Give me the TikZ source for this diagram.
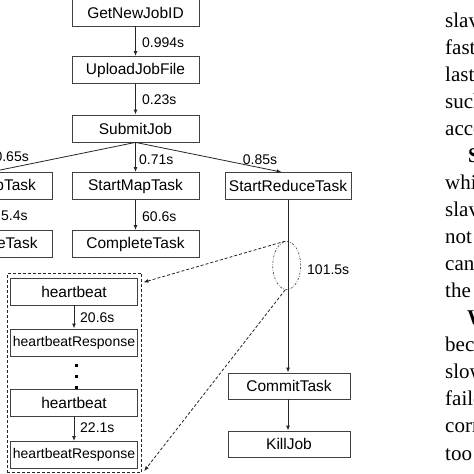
\documentclass[tikz,border=0pt]{standalone}
\usepackage{fontspec}
\setmainfont{Liberation Sans}
\newfontfamily\paperfont{Liberation Serif}
\usetikzlibrary{arrows.meta,shapes.geometric}
\tikzset{
  box/.style={draw=black!75, line width=0.8pt, rectangle, inner sep=0pt,
    minimum width=127pt, minimum height=27pt,
    font=\fontsize{15.5}{18}\selectfont},
  hbbox/.style={box, minimum width=126.6pt},
  lbl/.style={inner sep=0pt, font=\fontsize{14}{16}\selectfont},
  conn/.style={draw=black!85, line width=0.8pt, -{Latex[length=5pt,width=3.8pt]}},
  plain/.style={draw=black!85, line width=0.8pt},
  dconn/.style={draw=black!85, line width=0.8pt, dash pattern=on 3pt off 2pt,
    -{Latex[length=5pt,width=3.8pt]}},
  grpbox/.style={draw=black!85, line width=0.8pt, dash pattern=on 3pt off 2pt,
    rectangle, inner sep=0pt, minimum width=134.4pt, minimum height=199.4pt},
  ell/.style={draw=black!70, line width=0.7pt, ellipse, inner sep=0pt,
    dash pattern=on 2pt off 1.5pt on 0.6pt off 1.5pt,
    minimum width=28pt, minimum height=48pt},
  dot/.style={fill=black, rectangle, inner sep=0pt, minimum size=3pt},
  ptext/.style={anchor=base west, inner sep=0pt,
    font=\paperfont\fontsize{21}{24}\selectfont},
  ptextb/.style={ptext, font=\paperfont\bfseries\fontsize{21}{24}\selectfont}
}
\begin{document}
\begin{tikzpicture}[x=1pt,y=-1pt]
\useasboundingbox (0,0) rectangle (474,474);
\fill[white] (0,0) rectangle (474,474);
\begin{scope}
\clip (0,0) rectangle (474,474);
% main column
\node[box] (gnj) at (135.5,12.5) {GetNewJobID};
\node[box] (ujf) at (135.5,70) {UploadJobFile};
\node[box] (sj) at (135.5,128.5) {SubmitJob};
\node[box] (smt) at (135.5,186) {StartMapTask};
\node[box] (ct) at (135.5,244) {CompleteTask};
% left column (cut off)
\node[box] (smtL) at (-11.5,186) {StartMapTask};
\node[box] (ctL) at (-11.5,244) {CompleteTask};
% right column
\node[box, minimum width=126pt] (srt) at (288,186) {StartReduceTask};
\node[box, minimum width=122pt, minimum height=26pt] (cmt) at (289,386) {CommitTask};
\node[box, minimum width=122pt, minimum height=26pt] (kj) at (289,444) {KillJob};
% heartbeat group
\node[grpbox] (grp) at (74.5,373) {};
\node[hbbox] (hb1) at (74,291.5) {heartbeat};
\node[hbbox, font=\fontsize{14}{16}\selectfont] (hbr1) at (74,342.5) {heartbeatResponse};
\node[hbbox] (hb2) at (74,403) {heartbeat};
\node[hbbox, font=\fontsize{14}{16}\selectfont] (hbr2) at (74,455) {heartbeatResponse};
\node[dot] (d1) at (76,365) {};
\node[dot] (d2) at (76,376) {};
\node[dot] (d3) at (76,387) {};
% ellipse marker
\node[ell] (el) at (286.7,265.5) {};
% connectors
\draw[conn] (gnj.south) -- (ujf.north);
\draw[conn] (ujf.south) -- (sj.north);
\draw[conn] (sj.south) -- (smt.north);
\draw[conn] (sj.south) -- ([xshift=1.5pt]smtL.north);
\draw[conn] (sj.south) -- ([xshift=-6.3pt]srt.north);
\draw[conn] (smt.south) -- (ct.north);
\draw[conn] (smtL.south) -- (ctL.north);
\draw[conn] (srt.south) -- (srt.south |- cmt.north);
\draw[conn] (cmt.south -| srt.south) -- (srt.south |- kj.north);
\draw[conn] (hb1.south) -- (hbr1.north);
\draw[conn] (hb2.south) -- (hbr2.north);
\draw[dconn] ([xshift=-1.5pt]el.north) -- ([xshift=1.3pt,yshift=-9.4pt]grp.north east);
\draw[dconn] ([xshift=-1.5pt]el.south) -- ([xshift=2pt,yshift=2pt]grp.south east);
% labels
\node[lbl, anchor=west] (l1) at (142,43) {0.994s};
\node[lbl, anchor=west] (l2) at (142,100) {0.23s};
\node[lbl, anchor=west] (l3) at (139,160) {0.71s};
\node[lbl] (l4) at (260,160) {0.85s};
\node[lbl, anchor=east] (l5) at (29,157) {0.65s};
\node[lbl, anchor=west] (l6) at (142,217) {60.6s};
\node[lbl, anchor=west] (l7) at (1,216) {5.4s};
\node[lbl, anchor=west] (l8) at (307,270) {101.5s};
\node[lbl, anchor=west] (l9) at (80,318) {20.6s};
\node[lbl, anchor=west] (l10) at (80,428) {22.1s};
% paper text at right (cut off)
\node[ptext] (p1) at (445,27) {slaves};
\node[ptext] (p2) at (445,54) {faster};
\node[ptext] (p3) at (445,81) {last};
\node[ptext] (p4) at (445,108) {such};
\node[ptext] (p5) at (445,135) {according};
\node[ptextb] (p6) at (468,162) {Speculative};
\node[ptext] (p7) at (445,189) {which};
\node[ptext] (p8) at (445,216) {slaves};
\node[ptext] (p9) at (445,243.5) {not};
\node[ptext] (p10) at (445,270.5) {cannot};
\node[ptext] (p11) at (445,297.5) {the};
\node[ptextb] (p12) at (467,324.5) {We};
\node[ptext] (p13) at (445,351.5) {because};
\node[ptext] (p14) at (445,378.5) {slow};
\node[ptext] (p15) at (445,405.5) {failed};
\node[ptext] (p16) at (445,432.5) {correct};
\node[ptext] (p17) at (445,460) {too};
\end{scope}
\end{tikzpicture}
\end{document}
